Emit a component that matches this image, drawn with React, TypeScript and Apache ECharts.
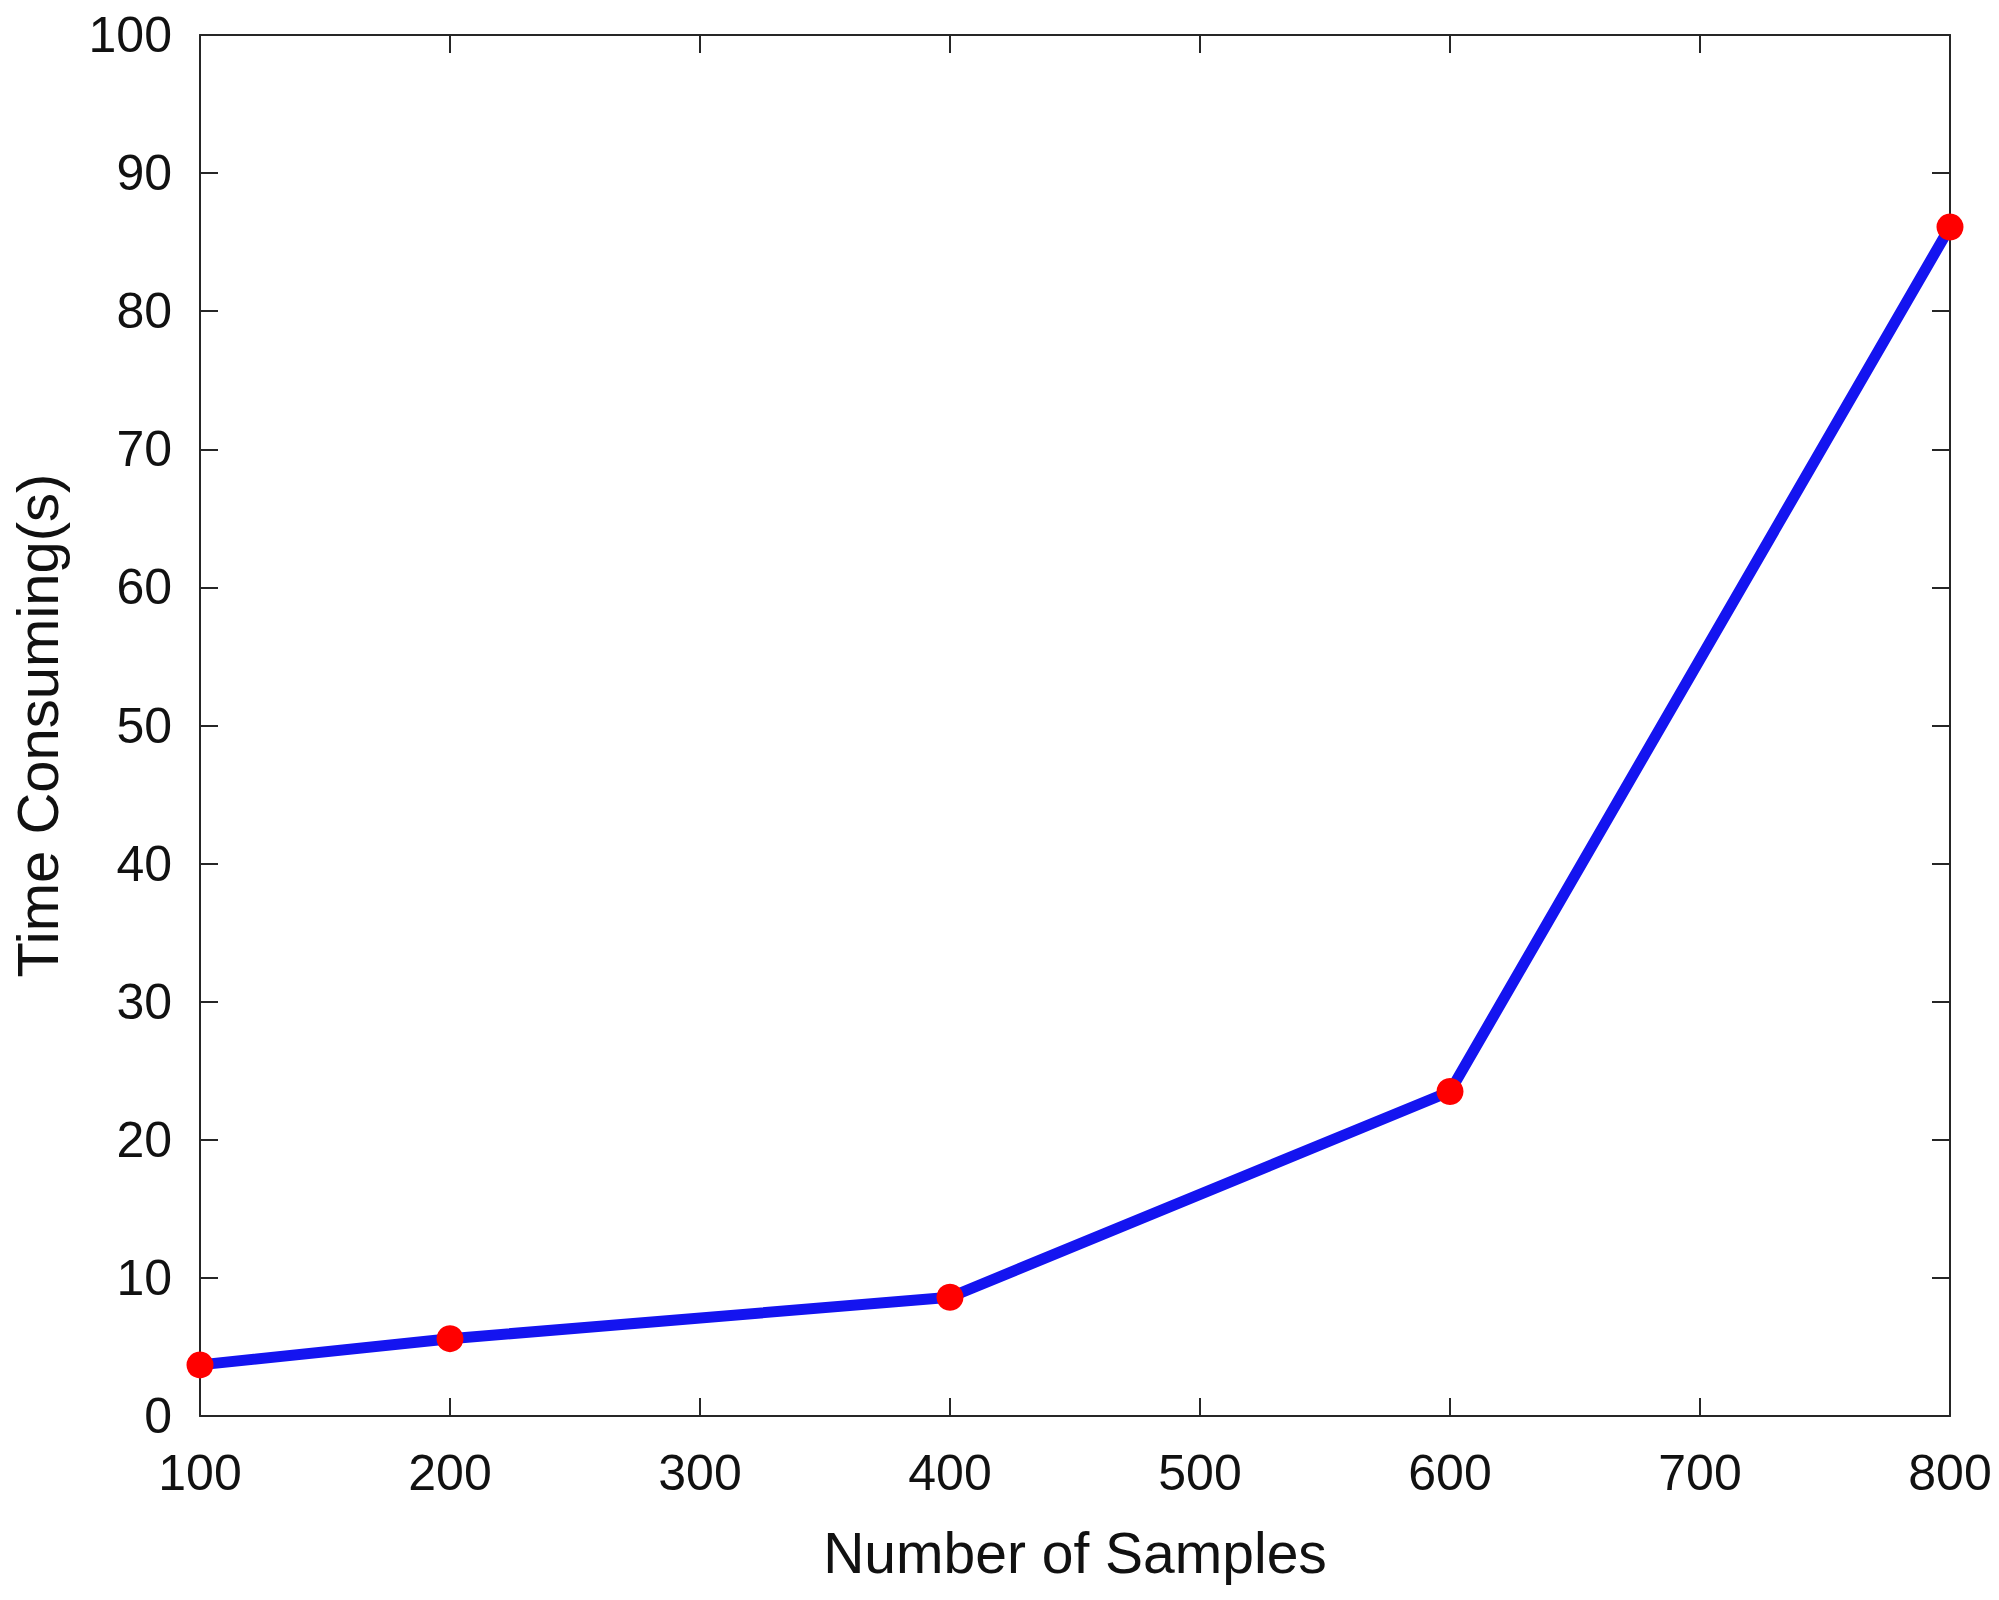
import React, { useEffect, useRef } from "react";
import * as echarts from "echarts";

const samples = [100, 200, 400, 600, 800];
const timeSeconds = [3.7, 5.6, 8.6, 23.5, 86.1];
const xTitle = "Number of Samples";
const yTitle = "Time Consuming(s)";

const FONT = "'Liberation Sans', Arial, Helvetica, sans-serif";
const AX = "#262626";

export default function App() {
  const ref = useRef<HTMLDivElement>(null);
  useEffect(() => {
    document.body.style.margin = "0";
    const chart = echarts.init(ref.current!, undefined, { renderer: "svg" });
    const tick = { show: true, inside: true, length: 18, lineStyle: { color: AX, width: 2 } };
    const line = { show: true, onZero: false, lineStyle: { color: AX, width: 2 } };
    chart.setOption({
      animation: false,
      backgroundColor: "#ffffff",
      grid: { left: 200, right: 49, top: 35, bottom: 184, containLabel: false },
      xAxis: [
        {
          type: "value",
          position: "bottom",
          min: 100,
          max: 800,
          interval: 100,
          axisLine: line,
          axisTick: tick,
          splitLine: { show: false },
          axisLabel: { color: "#111", fontSize: 50, fontFamily: FONT, margin: 32 },
          name: xTitle,
          nameLocation: "middle",
          nameGap: 108,
          nameTextStyle: { color: "#111", fontSize: 57, fontFamily: FONT },
        },
        {
          type: "value",
          position: "top",
          min: 100,
          max: 800,
          interval: 100,
          axisLine: line,
          axisTick: tick,
          splitLine: { show: false },
          axisLabel: { show: false },
        },
      ],
      yAxis: [
        {
          type: "value",
          position: "left",
          min: 0,
          max: 100,
          interval: 10,
          axisLine: line,
          axisTick: tick,
          splitLine: { show: false },
          axisLabel: { color: "#111", fontSize: 50, fontFamily: FONT, margin: 28 },
          name: yTitle,
          nameLocation: "middle",
          nameGap: 134,
          nameTextStyle: { color: "#111", fontSize: 58, fontFamily: FONT },
        },
        {
          type: "value",
          position: "right",
          min: 0,
          max: 100,
          interval: 10,
          axisLine: line,
          axisTick: tick,
          splitLine: { show: false },
          axisLabel: { show: false },
        },
      ],
      series: [
        {
          type: "line",
          xAxisIndex: 0,
          yAxisIndex: 0,
          data: samples.map((s, i) => [s, timeSeconds[i]]),
          clip: false,
          lineStyle: { color: "#1414f0", width: 11 },
          symbol: "circle",
          symbolSize: 27,
          itemStyle: { color: "#ff0000", borderWidth: 0 },
          z: 5,
        },
      ],
    });
    return () => chart.dispose();
  }, []);
  return <div ref={ref} style={{ width: 1999, height: 1600 }} />;
}
